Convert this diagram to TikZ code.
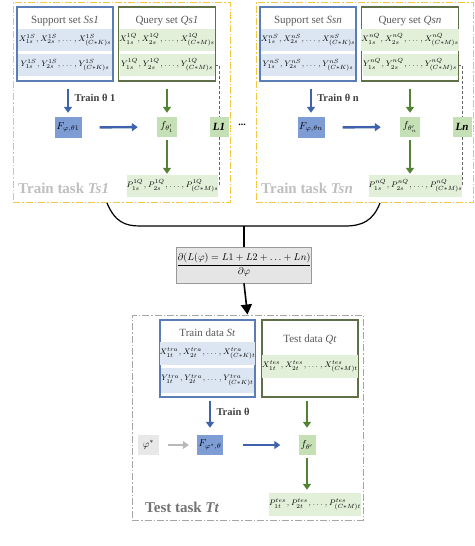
\documentclass[tikz,border=0pt]{standalone}
\usepackage{fontspec}
\setmainfont{Liberation Serif}
\usetikzlibrary{arrows.meta}

\definecolor{setblue}{HTML}{5B7DB6}
\definecolor{setgreen}{HTML}{5F7048}
\definecolor{bandblue}{HTML}{DCE6F2}
\definecolor{bandgreen}{HTML}{E2EFD9}
\definecolor{fillF}{HTML}{7F9DD5}
\definecolor{fillf}{HTML}{C5E0B4}
\definecolor{arrblue}{HTML}{3F62AC}
\definecolor{arrgreen}{HTML}{548235}
\definecolor{taskyellow}{HTML}{F2C744}

\newcommand\rsep{\mkern1.5mu,\mkern1mu}

\begin{document}
\begin{tikzpicture}[x=1pt, y=-1pt,
  taskframe/.style={draw=taskyellow, line width=1pt, dash pattern=on 7pt off 2pt on 1.5pt off 2pt, inner sep=0pt},
  testframe/.style={draw=gray!70, line width=1pt, dash pattern=on 7pt off 2pt on 1.5pt off 2pt, inner sep=0pt},
  setbox/.style={draw=#1, line width=1.1pt, fill=white, inner sep=0pt},
  settitle/.style={text=black!65, font=\fontsize{11}{12}\selectfont, inner sep=0pt},
  bandb/.style={fill=bandblue, minimum width=94, minimum height=22, inner sep=0pt, font=\fontsize{8}{9}\selectfont},
  bandg/.style={fill=bandgreen, minimum width=94, minimum height=22, inner sep=0pt, font=\fontsize{8}{9}\selectfont},
  Fbox/.style={fill=fillF, minimum width=27, minimum height=21, inner sep=0pt, font=\fontsize{10}{11}\selectfont},
  fbox/.style={fill=fillf, minimum width=20, minimum height=20, inner sep=0pt, font=\fontsize{10}{11}\selectfont},
  barr/.style={draw=arrblue, line width=2.4pt, -{Triangle[width=8pt,length=6pt]}},
  garr/.style={draw=arrgreen, line width=2.4pt, -{Triangle[width=8pt,length=6pt]}},
  grayarr/.style={draw=gray!55, line width=2.4pt, -{Triangle[width=8pt,length=6pt]}},
  lossline/.style={draw=gray!80!black, densely dashed, line width=0.6pt},
  tasktitle/.style={font=\bfseries\fontsize{15}{16}\selectfont, inner sep=0pt, anchor=west},
  trainlabel/.style={font=\bfseries\fontsize{10.5}{11}\selectfont, text=black!75, inner sep=0pt},
  brace/.style={draw=black, line width=1.2pt}]
\useasboundingbox (0,0) rectangle (474,546);

% train tasks 1 ... n
\foreach \k/\dx in {1/0,n/243}{
  \node[taskframe, minimum width=217, minimum height=200] (T\k) at (121.5+\dx,102) {};
  % support set
  \node[setbox=setblue, minimum width=96, minimum height=74] (S\k) at (65+\dx,44) {};
  \node[settitle] (Sh\k) at (65+\dx,21) {Support set \textit{Ss\k}};
  \node[bandb] (SX\k) at (65+\dx,40) {$X^{\k S}_{1s}\rsep X^{\k S}_{2s}\rsep\ldots\rsep X^{\k S}_{(C*K)s}$};
  \node[bandb] (SY\k) at (65+\dx,65) {$Y^{\k S}_{1s}\rsep Y^{\k S}_{2s}\rsep\ldots\rsep Y^{\k S}_{(C*K)s}$};
  % query set
  \node[setbox=setgreen, minimum width=97, minimum height=74] (Q\k) at (167+\dx,44) {};
  \node[settitle] (Qh\k) at (167+\dx,21) {Query set \textit{Qs\k}};
  \node[bandg, minimum width=95] (QX\k) at (167+\dx,40) {$X^{\k Q}_{1s}\rsep X^{\k Q}_{2s}\rsep\ldots\rsep X^{\k Q}_{(C*M)s}$};
  \node[bandg, minimum width=95] (QY\k) at (167+\dx,65) {$Y^{\k Q}_{1s}\rsep Y^{\k Q}_{2s}\rsep\ldots\rsep Y^{\k Q}_{(C*M)s}$};
  % models
  \node[Fbox] (F\k) at (68+\dx,127.5) {$F_{\varphi,\theta\k}$};
  \node[fbox] (f\k) at (167+\dx,127) {$f_{\theta'_{\k}}$};
  \node[fbox, minimum width=19, font=\bfseries\itshape\fontsize{11}{12}\selectfont] (L\k) at (219+\dx,127) {L\k};
  \node[bandg, minimum width=89] (P\k) at (172.5+\dx,186) {$P^{\k Q}_{1s}\rsep P^{\k Q}_{2s}\rsep\ldots\rsep P^{\k Q}_{(C*M)s}$};
  \node[tasktitle, text=black!25] (Tl\k) at (18+\dx,188) {Train task \textit{Ts\k}};
  % arrows
  \draw[barr, shorten <=7pt, shorten >=4pt] (F\k.north |- S\k.south) -- (F\k.north);
  \node[trainlabel] (Tr\k) at (95+\dx,98) {Train θ \k};
  \draw[barr, shorten <=18pt, shorten >=19pt] (F\k.east) -- (f\k.west);
  \draw[garr, shorten <=7pt, shorten >=4pt] (f\k.north |- Q\k.south) -- (f\k.north);
  \draw[garr, shorten <=3pt, shorten >=1pt] (f\k.south) -- (f\k.south |- P\k.north);
  \draw[lossline] (QY\k.east) -| (L\k.north);
  \draw[lossline] (L\k.south) |- (P\k.east);
}
\node[font=\bfseries] (dots) at (242,125) {...};

% gather the losses
\coordinate (b1) at (107,203);
\coordinate (bn) at (380,203);
\coordinate (bm) at (244,226);
\draw[brace] (b1) .. controls (115,222) and (125,226) .. (140,226) -- (345,226) .. controls (362,226) and (373,221) .. (bn);
\node[draw=gray!80, fill=gray!20, line width=0.8pt, minimum width=134, minimum height=36, inner sep=0pt, font=\fontsize{10}{11}\selectfont] (D) at (244,265) {$\displaystyle\frac{\partial(L(\varphi)=L1+L2+\ldots+Ln)}{\partial\varphi}$};
\draw[brace] (bm) -- (D.north);

% test task
\node[testframe, minimum width=231, minimum height=205] (Tt) at (247.5,417.5) {};
\draw[draw=black, line width=1.6pt, -{Triangle[width=11pt,length=10pt]}] (D.south) -- (Tt.north);
\node[setbox=setblue, minimum width=95, minimum height=77] (TrD) at (207.5,358.5) {};
\node[settitle] (TrDh) at (207.5,333) {Train data \textit{St}};
\node[bandb, minimum width=93, minimum height=23] (TrX) at (207.5,353.5) {$X^{tra}_{1t}\rsep X^{tra}_{2t}\rsep\ldots\rsep X^{tra}_{(C*K)t}$};
\node[bandb, minimum width=93, minimum height=25] (TrY) at (207.5,380) {$Y^{tra}_{1t}\rsep Y^{tra}_{2t}\rsep\ldots\rsep Y^{tra}_{(C*K)t}$};
\node[setbox=setgreen, minimum width=96, minimum height=77] (TeD) at (310,358.5) {};
\node[settitle] (TeDh) at (310,340) {Test data \textit{Qt}};
\node[bandg, minimum width=94, minimum height=23] (TeX) at (310,366.5) {$X^{tes}_{1t}\rsep X^{tes}_{2t}\rsep\ldots\rsep X^{tes}_{(C*M)t}$};
\node[fill=gray!18, minimum width=21, minimum height=20, inner sep=0pt, font=\fontsize{10}{11}\selectfont] (phi) at (148.5,445) {$\varphi^{*}$};
\node[Fbox, minimum width=26, minimum height=20] (Ft) at (210,445) {$F_{\varphi^{*},\theta}$};
\node[fbox, minimum width=17] (ft) at (307,445) {$f_{\theta'}$};
\node[bandg, minimum width=90, minimum height=23] (Pt) at (315,504.5) {$P^{tes}_{1t}\rsep P^{tes}_{2t}\rsep\ldots\rsep P^{tes}_{(C*M)t}$};
\node[tasktitle, text=black!55] (Ttl) at (145,507) {Test task \textit{Tt}};
\draw[barr, shorten <=3pt, shorten >=7pt] (Ft.north |- TrD.south) -- (Ft.north);
\node[trainlabel] (Trt) at (233,412) {Train θ};
\draw[grayarr, shorten <=9pt, shorten >=8pt] (phi.east) -- (Ft.west);
\draw[barr, shorten <=20pt, shorten >=18pt] (Ft.east) -- (ft.west);
\draw[garr, shorten <=3pt, shorten >=7pt] (ft.north |- TeD.south) -- (ft.north);
\draw[garr, shorten <=3pt, shorten >=3pt] (ft.south) -- (ft.south |- Pt.north);

\end{tikzpicture}
\end{document}
